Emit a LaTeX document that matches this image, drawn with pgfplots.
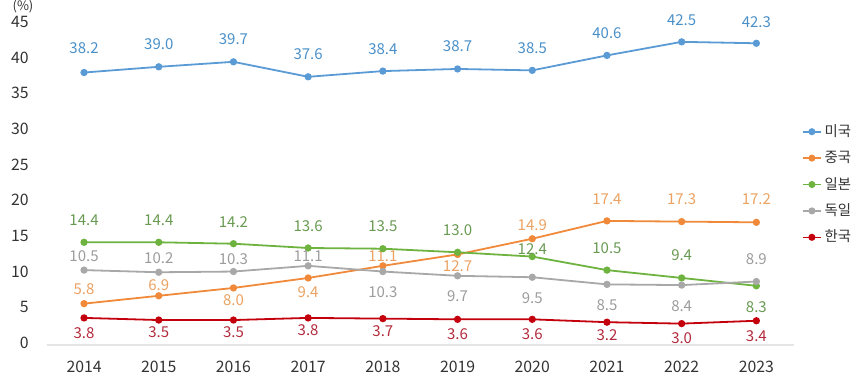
\documentclass[border=0pt]{standalone}
\usepackage{fontspec}
\setmainfont{Noto Sans CJK KR}
\usepackage{pgfplots}
\pgfplotsset{compat=1.18}
\definecolor{cUS}{HTML}{5B9BD5}
\definecolor{lUS}{HTML}{4A90C8}
\definecolor{cCN}{HTML}{F08A3A}
\definecolor{lCN}{HTML}{EBA262}
\definecolor{cJP}{HTML}{6EB340}
\definecolor{lJP}{HTML}{689A52}
\definecolor{cDE}{HTML}{A8A8A8}
\definecolor{lDE}{HTML}{9C9C9C}
\definecolor{cKR}{HTML}{C3000C}
\definecolor{lKR}{HTML}{B32A3C}
\definecolor{tickc}{HTML}{333333}
\pgfplotsset{
  ser/.style={color=#1, line width=0.9pt, mark=*, mark size=1.35pt, mark options={solid, fill=#1, draw=#1}},
  lab/.style={
    nodes near coords={\pgfmathprintnumber[fixed, fixed zerofill, precision=1, assume math mode=true]{\pgfplotspointmeta}},
    point meta=\thisrow{y},
    visualization depends on={value \thisrow{off}\as\off},
    every node near coord/.append style={anchor=center, yshift=\off pt, text=#1, inner sep=0pt, font=\fontsize{7.5}{8}\selectfont},
  },
}
\begin{document}
\begin{tikzpicture}
\path[use as bounding box] (-23.35pt,-16pt) rectangle (406.65pt,172.5pt);
\begin{axis}[
  at={(0,0)}, anchor=south west,
  scale only axis, width=373.5pt, height=160.5pt,
  xmin=2013.5, xmax=2023.5, ymin=0, ymax=45,
  xtick={2014,2015,...,2023}, ytick={0,5,...,45},
  /pgf/number format/assume math mode=true,
  x tick label style={/pgf/number format/1000 sep={}},
  tick style={draw=none},
  axis line style={draw=none},
  ticklabel style={font=\fontsize{7.9}{9}\selectfont, text=tickc, inner sep=0pt},
  xticklabel style={anchor=center, yshift=-11pt},
  yticklabel style={anchor=east, xshift=-8.85pt, yshift=1pt},
  clip=false,
  legend style={at={(axis description cs:1.0107,0.5)}, anchor=west, draw=none, fill=none,
    inner sep=0pt, font=\fontsize{7.2}{8}\selectfont, row sep=6.7pt,
    nodes={inner sep=0pt, text height=5.5pt, text depth=1pt, text=tickc},
    /tikz/every odd column/.style={column sep=1.5pt}},
  legend cell align=left,
  legend image code/.code={\draw[mark repeat=2,mark phase=2,line width=0.8pt,#1] plot coordinates {(0pt,0pt) (4.5pt,0pt) (9pt,0pt)};},
]
\draw[black!10, line width=0.7pt] (rel axis cs:0,0) -- (rel axis cs:1,0);
\node[font=\fontsize{6.5}{7}\selectfont, text=tickc] at (rel axis cs:0,1) [xshift=-11.85pt, yshift=9pt] {(\%)};

\addplot[ser=cUS, lab=lUS] table {
x y off
2014 38.2 12
2015 39.0 11.2
2016 39.7 11.2
2017 37.6 11.2
2018 38.4 11.2
2019 38.7 11.3
2020 38.5 11.2
2021 40.6 11.2
2022 42.5 11
2023 42.3 10.8
};
\addlegendentry{미국}
\addplot[ser=cCN, lab=lCN] table {
x y off
2014 5.8 7.35
2015 6.9 5.35
2016 8.0 -6.2
2017 9.4 -6.85
2018 11.1 5
2019 12.7 -5.85
2020 14.9 6.65
2021 17.4 10.85
2022 17.3 11
2023 17.2 11.5
};
\addlegendentry{중국}
\addplot[ser=cJP, lab=lJP] table {
x y off
2014 14.4 11
2015 14.4 11
2016 14.2 11
2017 13.6 11
2018 13.5 11.3
2019 13.0 11.3
2020 12.4 3.65
2021 10.5 10.85
2022 9.4 11.3
2023 8.3 -10.85
};
\addlegendentry{일본}
\addplot[ser=cDE, lab=lDE] table {
x y off
2014 10.5 7
2015 10.2 7.15
2016 10.3 6.15
2017 11.1 4.65
2018 10.3 -10.35
2019 9.7 -10
2020 9.5 -10.65
2021 8.5 -10.5
2022 8.4 -10.5
2023 8.9 11.35
};
\addlegendentry{독일}
\addplot[ser=cKR, lab=lKR] table {
x y off
2014 3.8 -7.5
2015 3.5 -6.2
2016 3.5 -6.3
2017 3.8 -6.35
2018 3.7 -6.2
2019 3.6 -7.5
2020 3.6 -7.5
2021 3.2 -6.65
2022 3.0 -7.35
2023 3.4 -7.5
};
\addlegendentry{한국}
\end{axis}
\end{tikzpicture}
\end{document}
